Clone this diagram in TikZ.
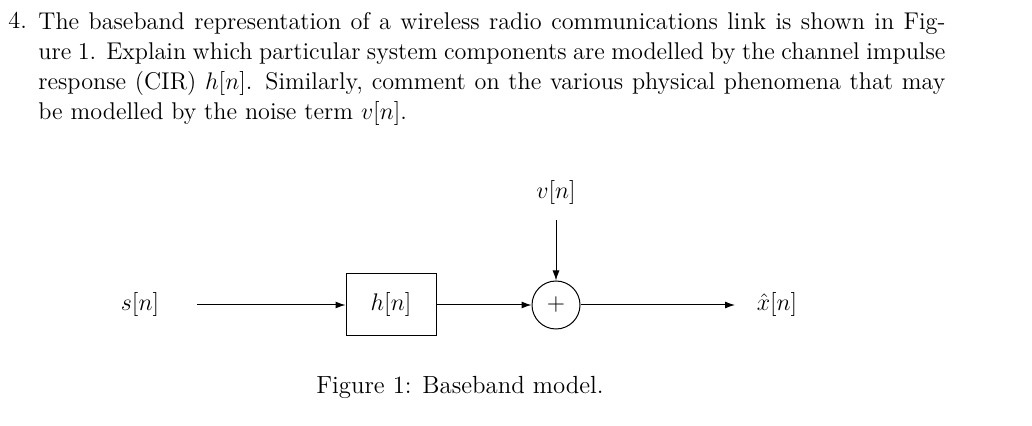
\documentclass[tikz,border=0pt]{standalone}
\usetikzlibrary{arrows.meta}
\begin{document}
\begin{tikzpicture}[x=0.5pt,y=-0.5pt,
  lbl/.style={font=\fontsize{12.4}{15}\selectfont, inner sep=0pt},
  ptxt/.style={font=\fontsize{12.1}{15}\selectfont, inner sep=0pt},
  arr/.style={-{Latex[length=5pt,width=3.5pt]}, line width=0.5pt}]
\useasboundingbox (0,0) rectangle (1032,426);
\node[ptxt, anchor=north west] (num) at (8,12) {4.};
\node[ptxt, anchor=north west, text width=453.5pt, align=justify] (par) at (38,12)
{\hyphenpenalty=10000\emergencystretch=20pt The baseband representation of a wireless radio communications link is shown in Fig-\linebreak ure 1. Explain which particular system components are modelled by the channel impulse\linebreak response (CIR) $h[n]$. Similarly, comment on the various physical phenomena that may\linebreak be modelled by the noise term $v[n]$.\par};
\node[lbl] (s) at (140,305) {$s[n]$};
\node[lbl, draw, line width=0.5pt, minimum width=45pt, minimum height=31pt] (h) at (391,305) {$h[n]$};
\node[lbl, draw, circle, line width=0.5pt, minimum size=24pt] (sum) at (556,305) {$+$};
\node[lbl] (v) at (556,193) {$v[n]$};
\node[lbl] (x) at (777,305) {$\hat{x}[n]$};
\coordinate (sr) at (197,305);
\coordinate (xl) at (735,305);
\coordinate (vb) at (556,220);
\draw[arr] (sr) -- (h.west);
\draw[arr] (h.east) -- (sum.west);
\draw[arr] (sum.east) -- (xl);
\draw[arr] (vb) -- (sum.north);
\node[lbl] (cap) at (460,387) {Figure 1: Baseband model.};
\end{tikzpicture}
\end{document}
